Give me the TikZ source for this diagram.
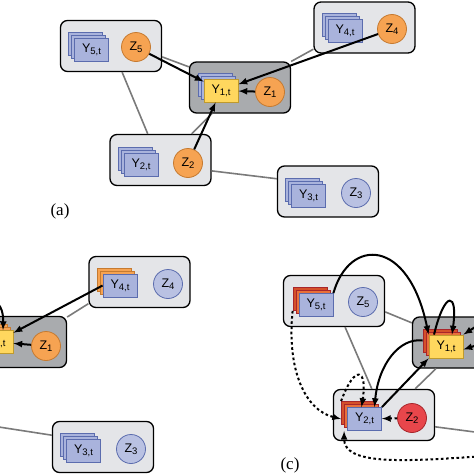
\documentclass[tikz,border=0pt]{standalone}
\usepackage{fontspec}
\setmainfont{Liberation Sans}
\newfontfamily\capfont{Liberation Serif}
\usetikzlibrary{arrows}
\definecolor{grpfill}{HTML}{E4E5E8}
\definecolor{grpdark}{HTML}{A9ABAE}
\definecolor{cardblue}{HTML}{A9B3DC}
\definecolor{lineblue}{HTML}{5B6CAE}
\definecolor{cardyel}{HTML}{FFD75E}
\definecolor{lineyel}{HTML}{BF9A2E}
\definecolor{zorange}{HTML}{F6A352}
\definecolor{lineorange}{HTML}{C67A30}
\definecolor{zblue}{HTML}{B9C1E2}
\definecolor{zred}{HTML}{E8464B}
\definecolor{linered}{HTML}{A8262B}
\definecolor{cardred}{HTML}{D4502A}
\definecolor{cardredm}{HTML}{E8703A}
\definecolor{linkgray}{HTML}{7A7A7A}
\newcommand{\ysub}[1]{\raisebox{-.35ex}{\fontsize{9.5}{10}\selectfont #1}}
\newcommand{\ystack}[6]{%
  \node[card,#3,xshift=-6pt,yshift=6pt] (#1k) at (#2) {};
  \node[card,#4,xshift=-3pt,yshift=3pt] (#1m) at (#2) {};
  \node[card,#5] (#1) at (#2) {Y\ysub{#6}};
}

\begin{document}
\begin{tikzpicture}[x=1pt,y=-1pt,
  grp/.style={draw=black, line width=1.3pt, rounded corners=7pt, fill=grpfill,
              minimum width=101pt, minimum height=51pt, inner sep=0pt},
  grpd/.style={grp, fill=grpdark},
  card/.style={rectangle, draw, line width=0.8pt, minimum width=34pt,
               minimum height=23pt, inner sep=0pt, font=\fontsize{12.5}{13}\selectfont},
  blu/.style={fill=cardblue, draw=lineblue},
  yel/.style={fill=cardyel, draw=lineyel},
  org/.style={fill=zorange, draw=lineorange},
  rd/.style={fill=cardred, draw=linered},
  rdm/.style={fill=cardredm, draw=linered},
  zdot/.style={circle, draw, line width=0.8pt, minimum size=29pt, inner sep=0pt,
               font=\fontsize{12.5}{13}\selectfont},
  zor/.style={zdot, fill=zorange, draw=lineorange},
  zbl/.style={zdot, fill=zblue, draw=lineblue},
  zrd/.style={zdot, fill=zred, draw=linered},
  link/.style={linkgray, line width=1.6pt},
  infl/.style={black, line width=2pt, -latex},
  dinfl/.style={infl, dash pattern=on 2.6pt off 2.6pt}]
  \useasboundingbox (0,0) rectangle (474,474);
  \clip (0,0) rectangle (474,474);

  % (a)
  \node[grp ] (box5a) at (111  , 46  ) {};
  \node[grpd] (box1a) at (240  , 87.5) {};
  \node[grp ] (box4a) at (364.5, 27.5) {};
  \node[grp ] (box2a) at (160.5,160  ) {};
  \node[grp ] (box3a) at (328  ,191.5) {};
  \draw[link] (box5a.-12) -- (box1a.158);
  \draw[link] (box5a.-67) -- (box2a.116);
  \draw[link] (box2a.40)  -- (box1a.223);
  \draw[link] (box2a.-12) -- (box3a.166);
  \draw[link] (box4a.203) -- (box1a.27);
  \ystack{Y5a}{91.5,49.5}{blu}{blu}{blu}{5,t}
  \ystack{Y1a}{221,90.5}{blu}{blu}{yel}{1,t}
  \ystack{Y4a}{345,30.5}{blu}{blu}{blu}{4,t}
  \ystack{Y2a}{141,164.5}{blu}{blu}{blu}{2,t}
  \ystack{Y3a}{308.5,195.5}{blu}{blu}{blu}{3,t}
  \node[zor] (Z5a) at (136,47 ) {Z\ysub{5}};
  \node[zor] (Z1a) at (270,92 ) {Z\ysub{1}};
  \node[zor] (Z4a) at (392,29 ) {Z\ysub{4}};
  \node[zor] (Z2a) at (188,163) {Z\ysub{2}};
  \node[zbl] (Z3a) at (356,193) {Z\ysub{3}};
  \draw[infl] (Z5a) -- (Y1a);
  \draw[infl] (Z2a) -- (Y1a);
  \draw[infl] (Z4a) -- (Y1a);
  \draw[infl] (Z1a) -- (Y1a);
  \node[font=\capfont\fontsize{17}{19}\selectfont] (capa) at (60,211) {(a)};

  % (b)
  \coordinate (b2) at (-40,421);
  \node[grp ] (box4b) at (139.5,282) {};
  \node[grpd] (box1b) at (16   ,342) {};
  \node[grp ] (box3b) at (103  ,447) {};
  \draw[link] (box4b.203) -- (box1b.26);
  \draw[link] (b2) -- (box3b.167);
  \ystack{Y4b}{120,285.5}{org}{org}{blu}{4,t}
  \ystack{Y1b}{-4,342}{org}{org}{yel}{1,t}
  \ystack{Y3b}{83.5,451}{blu}{blu}{blu}{3,t}
  \node[zbl] (Z4b) at (168,284) {Z\ysub{4}};
  \node[zor] (Z1b) at (46 ,346) {Z\ysub{1}};
  \node[zbl] (Z3b) at (131,449) {Z\ysub{3}};
  \draw[infl] (Y4b.west) -- (Y1b);
  \draw[infl] (Z1b) -- (Y1b);
  \draw[infl] ([xshift=-12pt]Y1b.north) .. controls +(0,-40) and +(1,-32) .. ([xshift=7pt]Y1b.north);

  % (c)
  \coordinate (c3) at (490,434);
  \coordinate (c4) at (486,320);
  \coordinate (c1z) at (482,343.5);
  \coordinate (c5) at (485,456);
  \node[grp ] (box5c) at (334,301  ) {};
  \node[grpd] (box1c) at (463,342.5) {};
  \node[grp ] (box2c) at (384,415  ) {};
  \draw[link] (box5c.-12) -- (box1c.159);
  \draw[link] (box5c.-67) -- (box2c.115);
  \draw[link] (box1c.224) -- (box2c.40);
  \draw[link] (box2c.-13) -- (c3);
  \ystack{Y5c}{316,305}{rd}{rdm}{blu}{5,t}
  \ystack{Y1c}{446,346.5}{rd}{rdm}{yel}{1,t}
  \ystack{Y2c}{364.5,419}{rd}{rdm}{blu}{2,t}
  \node[zbl] (Z5c) at (363,302) {Z\ysub{5}};
  \node[zrd] (Z2c) at (412,418) {Z\ysub{2}};
  \draw[infl] (Y5c.north east) .. controls +(16,-56) and +(-20,-97) .. (Y1c.north west);
  \draw[infl] ([xshift=-12pt]Y1c.north) .. controls +(11,-45) and +(6,-43) .. ([xshift=6pt]Y1c.north);
  \draw[infl] (c4) -- (Y1c.north east);
  \draw[infl] (c1z) -- ([yshift=-3pt]Y1c.east);
  \draw[infl] (Y1ck.west) .. controls +(-23,-3) and +(4,-43) .. ([xshift=10pt]Y2c.north);
  \draw[infl] (Y2c.north east) -- (Y1c.south west);
  \draw[dinfl] (Z2c) -- (Y2c);
  \draw[dinfl] (Y5ck.south west) .. controls +(-6,59) and +(-36,-9) .. ([yshift=-6pt]Y2ck.west);
  \draw[dinfl] (Y2ck.north west) .. controls +(14,-38) and +(6,-38) .. ([xshift=-3pt]Y2c.north);
  \draw[dinfl] (c5) .. controls +(-85,6) and +(0,34) .. ([xshift=-3pt]Y2c.south west);
  \node[font=\capfont\fontsize{17}{19}\selectfont] (capc) at (290,465) {(c)};
\end{tikzpicture}
\end{document}
